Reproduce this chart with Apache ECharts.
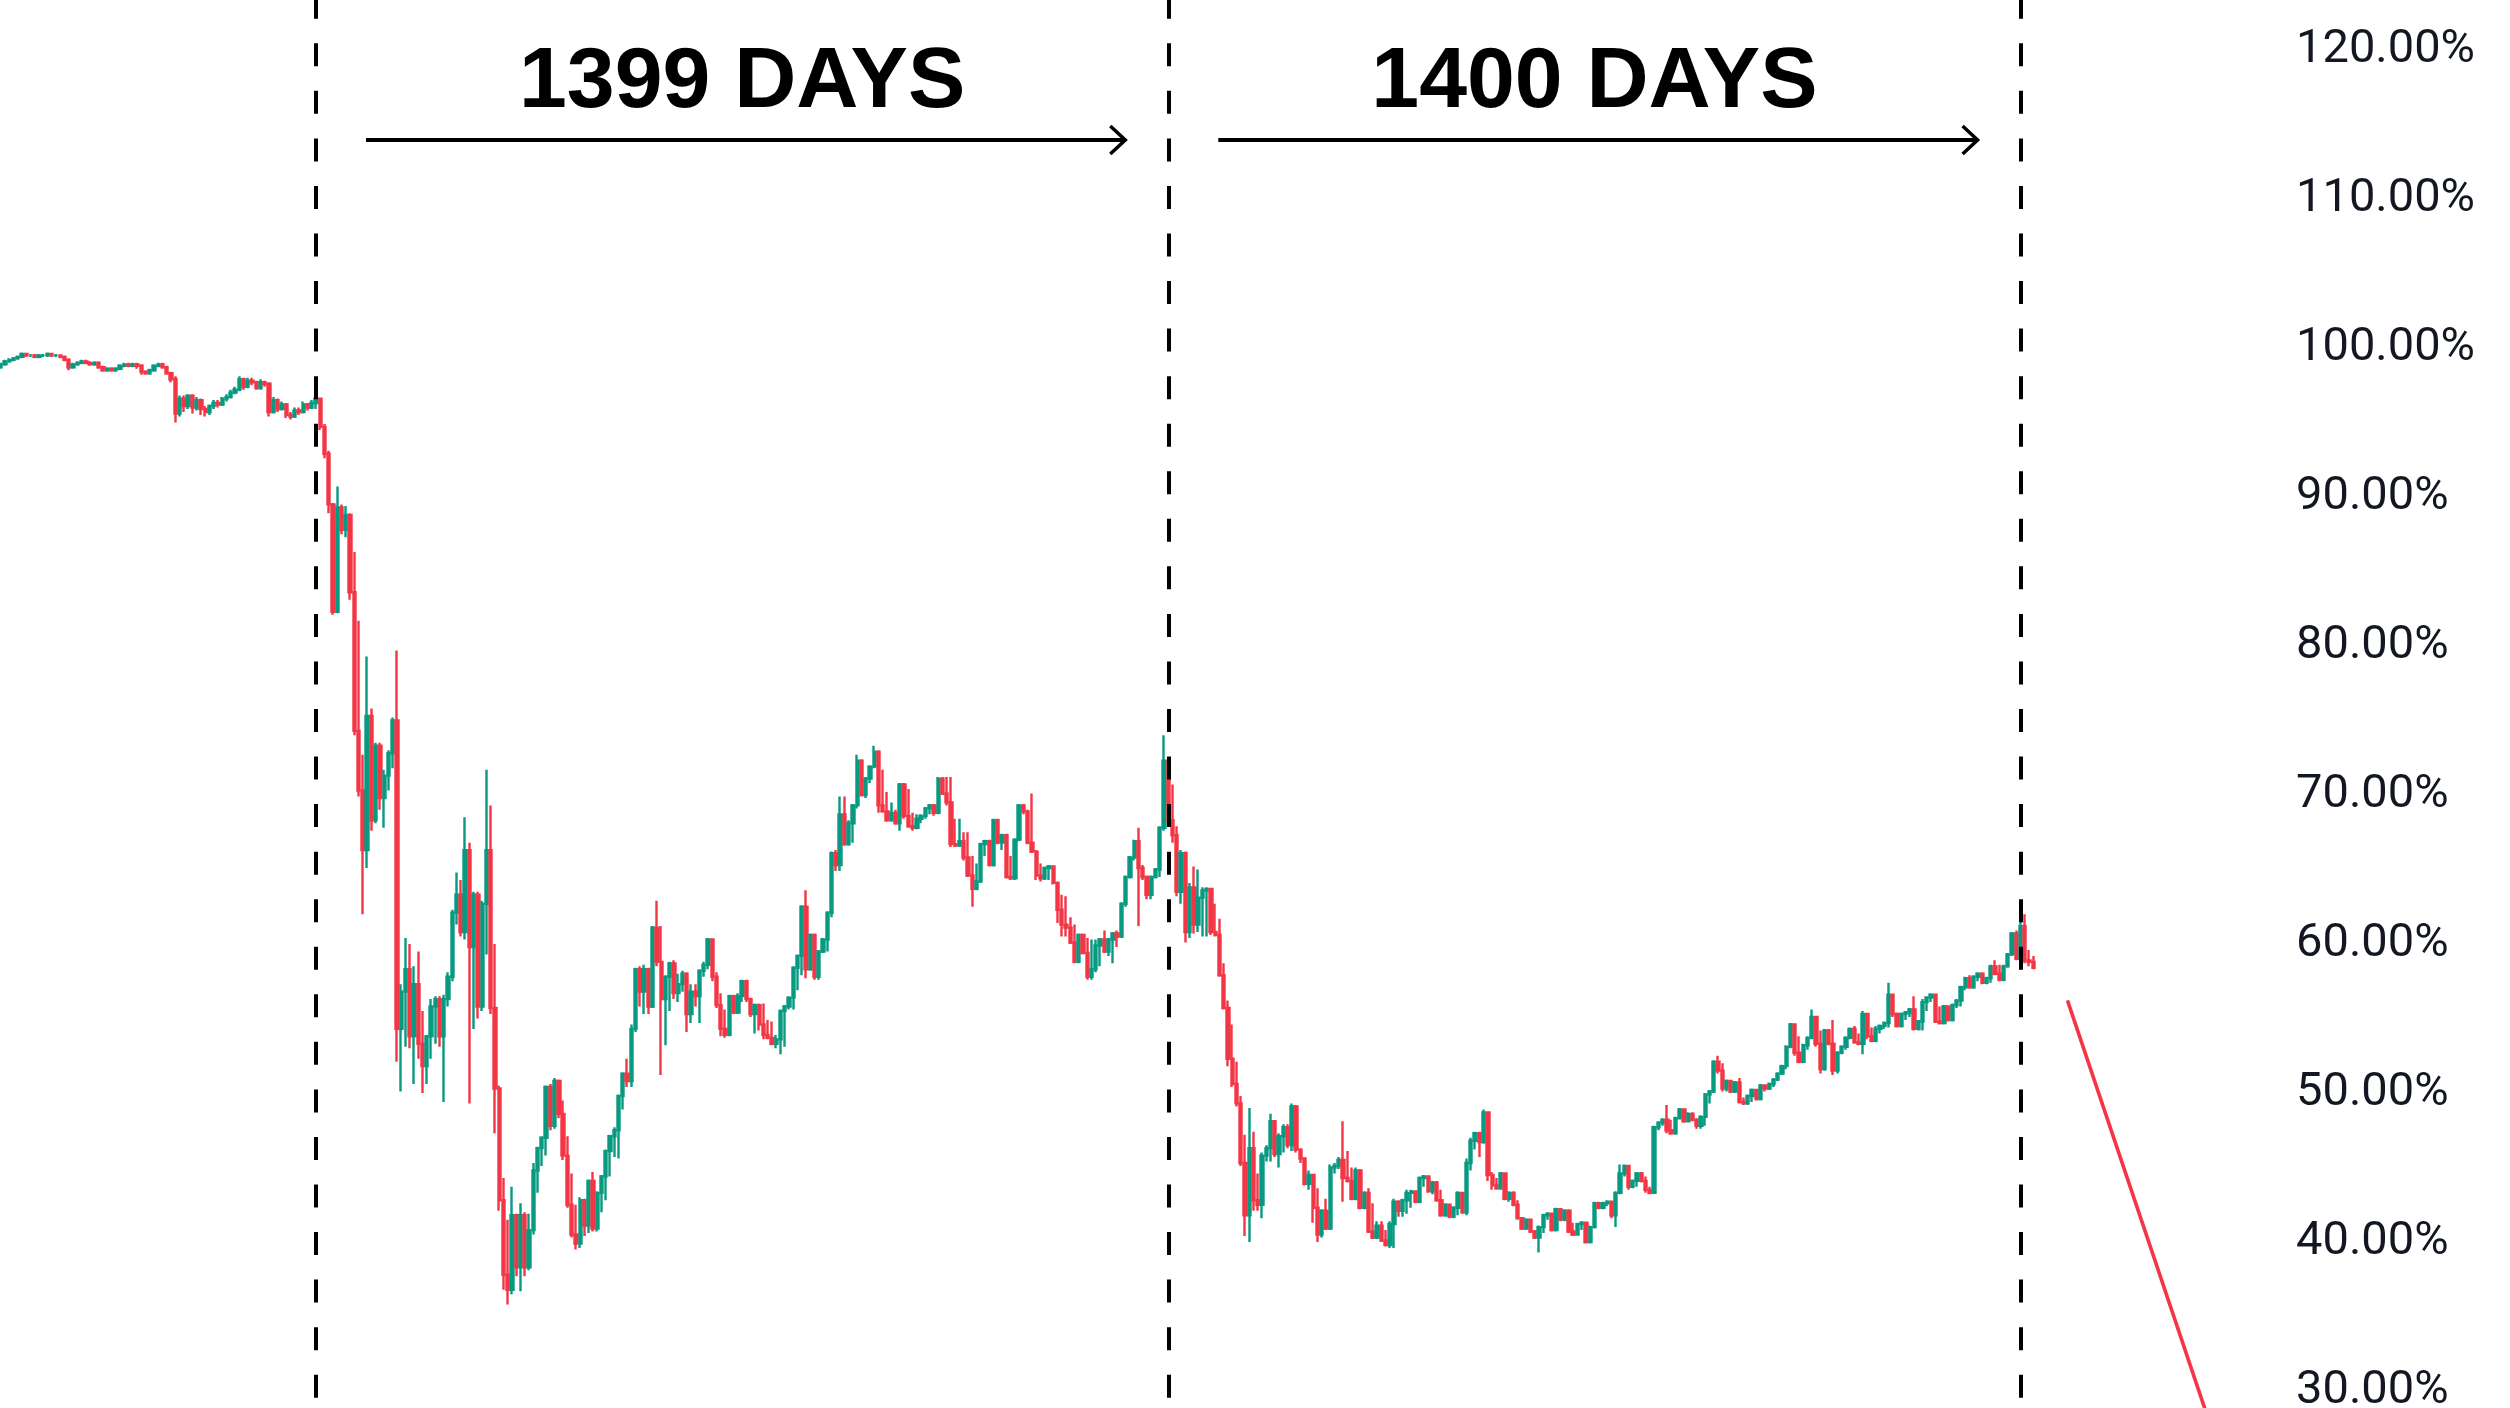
<!DOCTYPE html>
<html><head><meta charset="utf-8">
<script src="https://cdn.jsdelivr.net/npm/echarts@6/dist/echarts.min.js"></script>
<style>html,body{margin:0;padding:0;background:#fff;}#c{width:2510px;height:1408px;}</style>
</head><body><div id="c"></div>
<script>
// ---- data (weekly candles, % values) ----
const firstOpen = 98.4;
const closes = [
98.6,98.8,98.9,99.0,99.1,99.3,99.2,99.2,99.1,99.2,
99.2,99.3,99.2,99.2,99.1,98.9,98.4,98.6,98.7,98.8,
98.7,98.6,98.7,98.4,98.2,98.3,98.2,98.3,98.5,98.6,
98.5,98.6,98.5,98.1,98.0,98.2,98.5,98.6,98.4,98.0,
97.6,95.3,96.3,95.8,96.5,95.7,96.2,95.6,95.4,95.8,
96.0,95.9,96.3,96.4,96.7,96.9,97.6,97.1,97.5,97.4,
97.0,97.4,97.3,95.4,96.2,95.6,95.9,95.2,95.1,95.5,
95.4,95.9,95.7,96.0,96.3,94.4,92.6,89.2,82.0,89.0,
87.5,88.5,83.3,74.0,70.0,66.0,75.0,68.0,73.0,69.5,
71.0,72.5,74.7,54.0,56.5,58.0,53.5,57.0,53.0,51.5,
53.5,55.5,56.0,53.5,56.0,57.5,61.8,63.0,60.5,66.0,
59.5,63.0,55.5,62.4,66.0,55.4,50.0,42.5,37.5,36.5,
41.5,38.0,41.5,38.0,40.5,44.5,46.0,46.7,50.1,47.5,
50.5,48.3,45.5,42.2,40.2,39.6,42.5,40.8,43.8,40.6,
43.0,44.1,45.8,46.8,47.2,49.5,51.0,50.5,54.0,58.0,
56.5,58.0,55.5,60.8,58.5,56.0,57.5,58.4,56.4,57.0,
57.7,55.0,56.5,56.2,57.9,58.3,60.0,57.5,55.6,54.0,
53.6,56.2,55.1,56.2,57.2,56.0,55.0,55.6,54.3,53.6,
53.4,53.0,53.3,55.2,55.5,56.1,58.1,58.9,62.2,58.0,
60.3,57.5,59.2,60.0,61.8,65.8,65.0,68.4,66.4,67.8,
69.0,72.0,69.7,70.8,71.6,72.6,69.0,68.6,68.0,68.5,
67.8,70.4,68.3,67.6,67.5,68.1,68.3,68.8,69.0,68.5,
70.8,69.8,69.2,66.4,66.3,66.6,65.5,64.3,63.4,63.9,
66.4,66.6,65.0,68.0,66.5,67.0,64.2,64.1,66.7,69.0,
68.6,66.5,65.9,64.3,64.1,64.8,64.9,63.8,62.0,61.0,
60.8,59.8,58.5,60.3,59.1,57.5,58.0,59.6,60.0,59.2,
60.0,60.4,60.2,62.4,64.2,65.5,66.6,64.8,64.2,63.0,
64.2,64.7,67.5,72.0,68.0,67.0,63.2,65.8,60.5,63.5,
61.0,62.8,63.3,63.4,60.5,60.3,57.6,55.4,52.0,50.3,
49.0,45.0,41.5,46.0,42.5,42.2,45.5,46.0,47.8,45.6,
46.8,47.4,46.2,48.8,45.9,45.3,43.6,44.2,42.0,40.2,
41.8,40.6,44.7,44.8,45.2,44.0,43.8,42.6,44.5,42.0,
43.0,40.4,40.0,40.8,39.8,39.5,40.9,42.4,41.8,42.5,
43.0,43.1,42.4,44.0,44.1,43.1,43.7,42.5,41.5,42.2,
41.4,42.0,43.0,41.7,45.0,46.5,47.0,46.4,48.4,44.2,
43.5,43.3,44.3,42.6,43.0,42.2,41.3,40.6,41.2,40.4,
40.0,40.7,41.5,41.6,40.5,41.9,41.2,41.8,40.4,40.2,
40.9,41.0,39.7,40.7,42.3,42.0,42.3,42.4,41.5,43.0,
44.3,44.8,43.4,43.8,44.3,43.8,43.2,43.0,47.4,47.7,
47.9,47.2,47.0,48.0,48.6,47.8,48.3,47.9,47.5,48.1,
49.6,49.8,51.8,51.2,50.0,50.5,49.8,50.4,49.1,49.0,
49.5,49.9,49.3,50.2,50.0,50.3,50.6,51.0,51.5,52.8,
54.3,52.4,51.8,52.9,53.4,54.8,53.0,51.3,53.9,53.0,
51.2,52.4,52.8,53.4,54.0,53.1,53.0,55.0,53.5,53.2,
54.0,54.2,54.4,56.3,55.0,54.2,55.0,55.1,55.3,54.0,
54.5,55.8,56.1,56.3,54.5,54.4,55.5,54.6,55.6,55.9,
56.8,57.4,56.8,57.5,57.7,57.1,57.4,58.2,57.7,57.3,
58.2,59.0,60.4,58.7,60.9,58.6,58.5,58.1
];
const highs = [
98.7,98.9,99.0,99.1,99.2,99.4,99.3,99.3,99.3,99.3,
99.3,99.4,99.3,99.3,99.2,99.2,99.0,98.7,98.8,98.9,
98.9,98.8,98.8,98.8,98.5,98.4,98.4,98.4,98.6,98.7,
98.7,98.7,98.7,98.6,98.2,98.3,98.6,98.7,98.7,98.5,
98.1,97.8,96.5,96.5,96.6,96.6,96.4,96.3,95.8,95.9,
96.2,96.2,96.4,96.6,96.9,97.1,97.8,97.7,97.7,97.7,
97.5,97.6,97.5,97.4,96.4,96.3,96.1,96.0,95.4,95.7,
95.7,96.1,96.0,96.2,96.5,96.3,94.6,92.8,89.3,90.4,
89.2,89.1,88.6,86.0,81.4,72.4,79.0,75.5,73.2,73.2,
71.4,72.7,74.9,79.4,57.0,60.1,59.7,58.2,59.2,55.2,
53.6,56.0,56.2,56.2,56.3,57.8,62.0,64.5,64.0,68.2,
66.5,63.2,63.2,62.6,71.4,69.0,59.7,50.2,44.0,41.2,
43.4,41.6,42.3,41.7,41.6,45.0,46.1,46.8,50.2,50.3,
50.7,50.6,49.2,46.8,44.3,42.2,42.7,42.6,43.9,44.4,
43.1,44.2,45.9,46.9,47.4,49.6,51.1,52.0,54.3,58.1,
58.2,58.3,58.1,60.9,62.6,60.9,57.6,58.5,58.6,57.7,
57.9,57.8,57.0,57.0,58.0,58.5,60.1,60.0,57.8,56.4,
55.3,56.3,56.3,56.4,57.3,57.3,56.1,55.7,55.7,55.7,
54.6,54.5,53.6,55.3,55.6,56.2,58.2,59.0,62.3,63.3,
60.4,60.4,59.3,60.1,61.9,65.9,66.0,69.6,69.6,68.0,
69.1,72.4,72.1,70.9,71.7,73.0,72.7,71.4,69.9,69.2,
68.7,70.5,70.5,70.1,68.5,68.4,68.4,68.9,69.1,69.1,
70.9,70.9,70.9,70.9,68.1,68.1,67.2,67.2,65.6,65.1,
66.5,66.7,66.7,68.1,68.1,67.1,67.1,65.6,66.8,69.1,
69.1,68.7,69.8,66.0,65.1,64.9,65.0,64.9,63.9,63.0,
62.9,61.5,61.0,60.4,60.4,60.1,60.0,60.0,60.1,60.6,
60.1,60.5,60.6,62.5,64.3,65.6,66.7,67.5,65.0,64.3,
64.3,64.8,67.6,73.7,72.2,70.4,67.6,66.0,65.9,63.8,
64.9,64.7,63.5,63.5,63.1,62.4,61.4,58.4,55.9,54.3,
51.8,49.5,46.9,48.7,47.1,44.3,45.7,46.2,48.3,47.8,
47.0,47.6,47.6,49.0,48.9,46.0,45.1,44.5,44.2,43.3,
41.9,42.6,44.9,45.0,45.4,47.8,45.8,44.7,44.7,44.6,
43.1,43.3,42.3,41.1,41.1,40.5,41.1,42.6,42.5,42.6,
43.2,43.2,43.1,44.1,44.2,44.1,43.8,43.8,43.2,42.3,
42.1,42.1,43.1,43.0,45.3,46.7,47.1,47.1,48.6,48.3,
44.4,44.0,44.4,44.3,43.1,43.1,42.5,41.3,41.3,41.2,
40.5,40.8,41.6,41.7,41.5,42.0,41.9,41.9,41.9,41.0,
41.0,41.1,41.0,40.8,42.4,42.4,42.4,42.5,42.4,43.1,
44.9,44.9,44.8,43.9,44.4,44.4,44.1,43.4,47.5,47.8,
48.0,48.9,47.9,48.1,48.7,48.6,48.4,48.4,48.0,48.2,
49.7,49.9,51.9,52.2,51.7,50.6,50.5,50.5,50.7,49.4,
49.6,50.0,49.9,50.3,50.2,50.4,50.7,51.1,51.6,52.9,
54.4,54.2,53.5,53.0,53.5,55.3,54.8,53.9,54.0,54.0,
54.6,52.5,52.9,53.5,54.1,54.2,53.7,55.2,55.0,54.1,
54.2,54.3,54.5,57.1,56.3,55.1,55.1,55.2,55.4,56.2,
54.6,56.0,56.2,56.4,56.3,55.5,55.6,55.5,55.7,56.0,
56.9,57.5,57.6,57.6,57.8,57.8,57.5,58.3,58.6,58.3,
58.3,59.1,60.5,60.6,61.2,61.7,59.3,58.9
];
const lows = [
98.3,98.5,98.7,98.8,98.9,99.0,99.1,99.1,99.0,99.0,
99.1,99.1,99.1,99.1,99.0,98.8,98.2,98.3,98.5,98.6,
98.6,98.5,98.5,98.3,98.1,98.1,98.1,98.1,98.2,98.4,
98.4,98.4,98.3,97.9,97.9,97.9,98.1,98.4,98.3,97.9,
97.4,94.7,95.1,95.4,95.6,95.3,95.5,95.2,95.1,95.2,
95.6,95.7,95.8,96.1,96.3,96.6,96.8,96.9,97.0,97.2,
96.9,96.9,97.1,95.1,95.3,95.4,95.5,95.0,94.9,95.0,
95.2,95.3,95.5,95.6,95.6,94.2,92.3,88.6,81.8,81.9,
87.2,87.0,82.8,73.7,69.6,61.7,64.8,67.3,67.8,68.7,
67.5,70.0,71.5,51.8,49.8,52.8,52.7,50.3,52.0,49.7,
50.3,52.0,53.0,52.8,49.1,55.5,57.2,61.0,60.2,60.0,
49.0,54.0,54.7,55.2,59.0,55.0,47.0,41.8,36.5,35.5,
36.2,37.4,36.4,37.4,37.8,40.2,43.0,44.8,45.5,47.2,
47.3,48.0,45.2,42.0,40.0,39.2,39.3,40.1,40.3,40.4,
40.4,41.7,42.5,44.1,45.4,45.3,48.6,50.1,50.1,53.8,
55.5,55.0,55.0,55.4,58.2,50.9,52.9,55.2,56.0,55.8,
56.5,53.8,54.4,55.5,54.4,57.5,58.0,57.2,55.4,53.5,
53.4,53.5,55.0,55.0,55.8,55.8,54.8,53.7,53.9,53.3,
53.3,52.9,52.7,52.3,52.8,55.3,55.3,56.6,57.6,57.4,
57.9,57.3,57.3,59.1,59.2,61.5,64.6,64.6,66.3,66.3,
66.5,68.8,69.6,69.5,70.5,71.5,68.5,68.5,67.9,67.9,
67.7,67.3,68.1,67.5,67.3,67.4,67.8,68.1,68.4,68.3,
68.4,69.7,69.0,66.2,66.2,66.2,65.3,64.2,62.2,63.3,
63.8,65.6,64.9,64.9,66.4,66.0,64.1,64.0,64.0,66.6,
68.4,66.4,65.8,64.0,63.9,64.0,64.0,63.7,61.1,60.2,
60.2,59.7,58.4,58.4,59.0,57.3,57.3,57.8,58.2,59.1,
58.9,58.4,59.5,60.1,62.2,64.1,65.3,60.9,64.0,62.7,
62.7,64.1,64.2,67.3,67.8,66.5,62.9,62.4,59.8,60.1,
60.4,60.5,60.2,60.2,60.3,60.2,57.5,55.3,51.5,50.1,
48.8,44.8,40.1,39.7,41.8,41.8,41.3,45.1,45.1,45.4,
44.7,45.7,46.0,45.8,45.7,45.0,43.5,43.2,41.0,39.7,
40.0,40.5,40.5,44.3,44.6,42.4,43.7,42.5,42.5,41.9,
41.9,40.3,39.9,39.9,39.7,39.4,39.3,39.3,41.4,41.4,
41.6,42.0,42.3,42.3,43.4,43.0,42.9,42.4,41.4,41.4,
41.3,41.3,41.5,41.6,41.5,44.5,45.9,45.4,46.3,43.8,
43.2,43.2,43.2,42.5,42.4,42.1,41.2,40.5,40.5,40.3,
39.9,39.0,40.3,41.2,40.4,40.4,41.1,41.1,40.3,40.1,
40.2,40.5,39.6,39.6,40.6,41.9,41.9,42.1,41.3,40.7,
42.9,44.1,43.2,43.3,43.4,43.7,43.0,42.9,43.0,47.2,
47.5,47.0,46.9,46.9,48.0,47.7,47.8,47.8,47.3,47.3,
47.5,49.0,49.7,51.0,49.8,49.8,49.7,49.7,49.0,48.9,
48.9,49.1,49.2,49.2,49.8,49.9,50.1,50.5,50.9,51.3,
52.7,52.2,51.7,51.7,52.6,53.3,52.8,51.0,51.2,52.9,
50.9,51.0,52.3,52.6,53.3,53.0,52.9,52.3,53.3,53.1,
53.1,53.7,54.0,54.1,54.8,54.1,54.1,54.6,54.8,53.9,
53.9,53.9,55.2,55.8,54.4,54.3,54.3,54.5,54.5,55.4,
55.5,56.6,56.7,56.7,57.2,57.0,57.0,57.1,57.6,57.2,
57.2,58.1,58.9,58.6,58.0,58.4,58.2,58.0
];
const yTicks = [30, 40, 50, 60, 70, 80, 90, 100, 110, 120];
const cycleMarkers = [74, 274, 474];          // candle index of each dashed line
const spanLabels = ['1399 DAYS', '1400 DAYS'];
const trendLine = [[485, 55.92], [518, 27.87]]; // [candle index, %]
const slotCount = 530;

// ---- chart ----
const SLOT = 4.2615;
const slots = Array.from({length: slotCount}, (_, i) => i);
const ohlc = closes.map((c, i) => {
  const o = i === 0 ? firstOpen : closes[i - 1];
  return [o, c, Math.min(lows[i], o, c), Math.max(highs[i], o, c)];
});
const UP = '#089981', DOWN = '#f23645';
const chart = echarts.init(document.getElementById('c'), null, {renderer: 'canvas', width: 2510, height: 1408});
chart.setOption({
  animation: false,
  backgroundColor: '#ffffff',
  grid: {left: -1.5, top: 0, width: slotCount * SLOT, height: 1408, containLabel: false, outerBoundsMode: 'none'},
  xAxis: {type: 'category', data: slots, boundaryGap: true, show: false},
  yAxis: {
    type: 'value', position: 'right', min: 28.56, max: 123.05,
    splitLine: {show: false}, axisLine: {show: false}, axisTick: {show: false},
    axisLabel: {
      customValues: yTicks, margin: 39, align: 'left',
      formatter: v => '{t|' + v.toFixed(2) + '%}',
      rich: {t: {color: '#131722', fontFamily: 'Roboto', fontSize: 47, padding: [10, 0, 0, 0]}},
      color: '#131722', fontFamily: 'Roboto', fontSize: 47
    }
  },
  series: [
    {
      type: 'candlestick', data: ohlc, barWidth: 2.8, silent: true,
      itemStyle: {color: UP, color0: DOWN, borderColor: UP, borderColor0: DOWN, borderWidth: 2.4},
      markLine: {
        silent: true, symbol: ['none', 'none'], label: {show: false},
        lineStyle: {color: '#000000', width: 4, type: [23, 24.55], dashOffset: 37.25, opacity: 1},
        emphasis: {disabled: true},
        data: cycleMarkers.map(i => ({xAxis: i}))
      }
    },
    {
      type: 'line', data: trendLine, showSymbol: false, symbol: 'none', silent: true, clip: true,
      lineStyle: {color: DOWN, width: 3.6}
    }
  ]
});

// annotations placed from the axis positions of the dashed lines
const px = cycleMarkers.map(i => chart.convertToPixel({xAxisIndex: 0}, i));
const graphics = [];
for (let k = 0; k < spanLabels.length; k++) {
  const a = px[k], b = px[k + 1];
  const x1 = a + 50, x2 = b - 43, y = 140;
  graphics.push({
    type: 'text', x: (a + b) / 2, y: 83,
    style: {text: spanLabels[k], font: 'bold 86px "Liberation Sans", Arial, sans-serif', fill: '#000',
            align: 'center', verticalAlign: 'middle', textAlign: 'center', textVerticalAlign: 'middle'}
  });
  graphics.push({type: 'line', shape: {x1: x1, y1: y, x2: x2 - 1, y2: y}, style: {stroke: '#000', lineWidth: 4}});
  graphics.push({type: 'polyline', shape: {points: [[x2 - 15, y - 14], [x2, y], [x2 - 15, y + 14]]},
                 style: {stroke: '#000', lineWidth: 3.5, fill: null}});
}
chart.setOption({graphic: graphics});
</script>
</body></html>
